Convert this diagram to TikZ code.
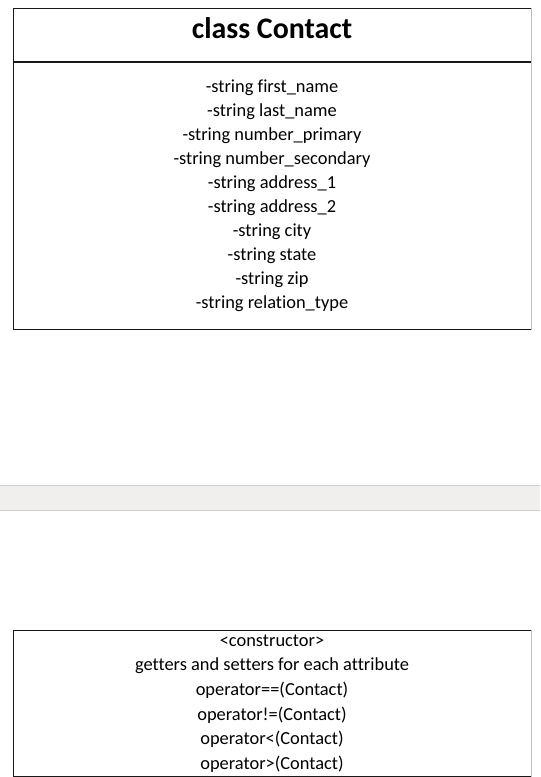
\documentclass[tikz,border=0pt]{standalone}
\usepackage{fontspec}
\setmainfont{Carlito}[Ligatures=NoCommon]
\usetikzlibrary{positioning}

\begin{document}
\begin{tikzpicture}[
    x=0.75pt, y=-0.75pt,
    node distance=0pt,
    box/.style={draw=black!90, line width=0.8pt, minimum width=388.5pt, inner sep=0pt, align=center},
    title/.style={box, text height=22.2pt, text depth=17.55pt, font=\fontsize{22.4}{26}\selectfont\bfseries},
    attrbox/.style={box, minimum height=200.25pt, font=\fontsize{13.8}{18}\selectfont},
    opbox/.style={box, minimum height=109.5pt, font=\fontsize{13.8}{18.45}\selectfont},
    rightedge/.style={draw=black!25, line width=0.9pt}
  ]
    \useasboundingbox (0,0) rectangle (540,777);
    \node[title, anchor=north west] (header) at (12.5,8) {class Contact};
    \node[attrbox, below=of header] (attrs) {-string first\_name\\-string last\_name\\-string number\_primary\\-string number\_secondary\\-string address\_1\\-string address\_2\\-string city\\-string state\\-string zip\\-string relation\_type};
    % page break band
    \fill[fill={rgb,255:red,240;green,239;blue,238}] (0,485.5) rectangle (540,510.5);
    \draw[black!20, line width=0.9pt] (0,485.5) -- (540,485.5);
    \draw[black!20, line width=0.9pt] (0,510.5) -- (540,510.5);
    \node[opbox, anchor=north west] (ops) at (12.5,630) {<constructor>\\getters and setters for each attribute\\operator==(Contact)\\operator!=(Contact)\\operator<(Contact)\\operator>(Contact)};
    \draw[rightedge] (header.north east) -- (attrs.south east);
    \draw[rightedge] (ops.north east) -- (ops.south east);
  \end{tikzpicture}
\end{document}
